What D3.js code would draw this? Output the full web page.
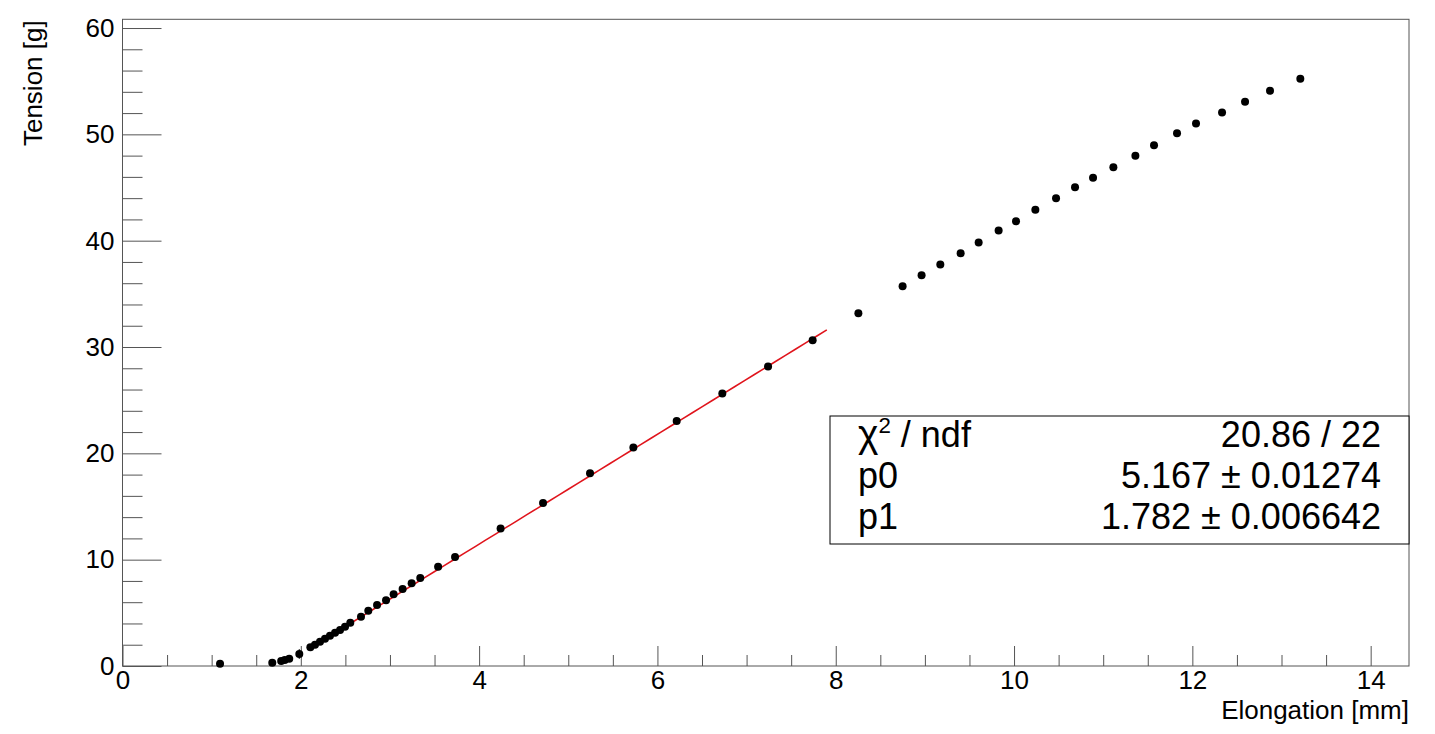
<!DOCTYPE html>
<html>
<head>
<meta charset="utf-8">
<script src="https://cdn.jsdelivr.net/npm/d3@7"></script>
<style>
  html, body { margin: 0; padding: 0; background: #fff; }
  svg { display: block; font-family: "Liberation Sans", Arial, Helvetica, sans-serif; }
</style>
</head>
<body>
<svg id="chart" width="1435" height="734"></svg>
<script>
// ---- data ----
const elongation = [1.094, 1.680, 1.78, 1.82, 1.87, 1.983, 2.107, 2.159, 2.215, 2.271, 2.327, 2.384, 2.44, 2.496, 2.555,
  2.675, 2.757, 2.855, 2.956, 3.041, 3.142, 3.243, 3.34, 3.54, 3.73, 4.241, 4.717, 5.244, 5.730, 6.216, 6.728, 7.241, 7.741,
  8.254, 8.750, 8.963, 9.173, 9.401, 9.603, 9.827, 10.022, 10.239, 10.471, 10.684, 10.886, 11.114, 11.361, 11.570, 11.828,
  12.041, 12.333, 12.591, 12.871, 13.211];
const tension = [0.22, 0.31, 0.47, 0.56, 0.69, 1.13, 1.76, 2.0, 2.29, 2.57, 2.85, 3.13, 3.39, 3.70, 4.07,
  4.64, 5.2, 5.74, 6.18, 6.74, 7.24, 7.78, 8.28, 9.34, 10.25, 12.92, 15.33, 18.13, 20.54, 23.05, 25.62, 28.16, 30.64,
  33.18, 35.72, 36.75, 37.75, 38.82, 39.82, 40.95, 41.83, 42.90, 44.0, 45.03, 45.91, 46.91, 47.98, 48.98, 50.11,
  51.02, 52.05, 53.06, 54.09, 55.22];
const tensionErr = [0, 0, 0, 0, 0, 0.45, 0, 0, 0, 0, 0, 0, 0, 0, 0,
  0, 0, 0, 0, 0, 0, 0, 0, 0, 0, 0, 0, 0, 0, 0, 0, 0, 0,
  0, 0, 0, 0, 0, 0, 0, 0, 0, 0, 0, 0, 0, 0, 0, 0,
  0, 0, 0, 0, 0];
const xDomain = [0, 14.43];
const yDomain = [0, 60.82];
const xTicks = [0, 2, 4, 6, 8, 10, 12, 14];
const yTicks = [0, 10, 20, 30, 40, 50, 60];
const xMinorStep = 0.5;
const yMinorStep = 2;
const fitP0 = 5.167, fitP1 = 1.782;   // y = p0 * (x - p1)
const fitRange = [2.1, 7.9];
const statsLabels = ["ndf", "p0", "p1"];
const statsValues = ["20.86 / 22", "5.167 \u00b1 0.01274", "1.782 \u00b1 0.006642"];
const xTitle = "Elongation [mm]";
const yTitle = "Tension [g]";

// ---- layout ----
const L = 122.5, R = 1409, T = 19.3, B = 666;
const svg = d3.select("#chart");
const x = d3.scaleLinear().domain(xDomain).range([L, R]);
const y = d3.scaleLinear().domain(yDomain).range([B, T]);
const axisColor = "#555";
const fs = 26;

// frame
svg.append("rect").attr("x", L).attr("y", T).attr("width", R - L).attr("height", B - T)
  .attr("fill", "none").attr("stroke", axisColor).attr("stroke-width", 1);

// x axis
const xMinor = d3.range(0, xDomain[1] + 1e-9, xMinorStep).filter(v => !xTicks.includes(v));
const gxMinor = svg.append("g").attr("transform", `translate(0,${B})`)
  .call(d3.axisBottom(x).tickValues(xMinor).tickSize(-11).tickSizeOuter(0).tickFormat(""));
const gx = svg.append("g").attr("transform", `translate(0,${B})`)
  .call(d3.axisBottom(x).tickValues(xTicks).tickSize(-20).tickSizeOuter(0).tickPadding(5).tickFormat(d3.format("d")));
// y axis
const yMinor = d3.range(0, yDomain[1] + 1e-9, yMinorStep).filter(v => !yTicks.includes(v));
const gyMinor = svg.append("g").attr("transform", `translate(${L},0)`)
  .call(d3.axisLeft(y).tickValues(yMinor).tickSize(-20).tickSizeOuter(0).tickFormat(""));
const gy = svg.append("g").attr("transform", `translate(${L},0)`)
  .call(d3.axisLeft(y).tickValues(yTicks).tickSize(-39).tickSizeOuter(0).tickPadding(8).tickFormat(d3.format("d")));

[gxMinor, gx, gyMinor, gy].forEach(g => {
  g.select(".domain").remove();
  g.selectAll(".tick line").attr("stroke", axisColor).attr("stroke-width", 1);
  g.selectAll(".tick text").attr("fill", "#000").style("font-size", fs + "px")
    .style("font-family", '"Liberation Sans", Arial, Helvetica, sans-serif');
});

// axis titles
svg.append("text").attr("x", R).attr("y", 719).attr("text-anchor", "end")
  .style("font-size", fs + "px").text(xTitle);
svg.append("text").attr("transform", `translate(42,${T + 1}) rotate(-90)`).attr("text-anchor", "end")
  .style("font-size", fs + "px").text(yTitle);

// fit line
const fitXs = d3.range(fitRange[0], fitRange[1] + 1e-9, (fitRange[1] - fitRange[0]) / 50);
svg.append("path")
  .datum(fitXs)
  .attr("fill", "none").attr("stroke", "#e0141c").attr("stroke-width", 1.6)
  .attr("d", d3.line().x(d => x(d)).y(d => y(fitP0 * (d - fitP1))));

// data points
const pts = elongation.map((v, i) => ({ x: v, y: tension[i], e: tensionErr[i] }));
svg.append("g").selectAll("line").data(pts.filter(d => d.e > 0)).join("line")
  .attr("x1", d => x(d.x)).attr("x2", d => x(d.x))
  .attr("y1", d => y(d.y - d.e)).attr("y2", d => y(d.y + d.e))
  .attr("stroke", "#000").attr("stroke-width", 1.2);
svg.append("g").selectAll("circle").data(pts).join("circle")
  .attr("cx", d => x(d.x)).attr("cy", d => y(d.y)).attr("r", 4).attr("fill", "#000");

// stats box
const bx0 = 830, by0 = 416, bx1 = R, by1 = 544;
svg.append("rect").attr("x", bx0).attr("y", by0).attr("width", bx1 - bx0).attr("height", by1 - by0)
  .attr("fill", "#fff").attr("stroke", "#000").attr("stroke-width", 1);
const sfs = 36;
const rowBase = [447, 488, 529];
const t0 = svg.append("text").attr("x", 858).attr("y", rowBase[0]).style("font-size", sfs + "px");
t0.append("tspan").style("font-size", (sfs * 1.08) + "px").text("\u03c7");
t0.append("tspan").attr("dy", -14).style("font-size", (sfs * 0.62) + "px").text("2");
t0.append("tspan").attr("dy", 14).text(" / " + statsLabels[0]);
for (let i = 1; i < 3; i++) {
  svg.append("text").attr("x", 858).attr("y", rowBase[i]).style("font-size", sfs + "px").text(statsLabels[i]);
}
statsValues.forEach((s, i) => {
  svg.append("text").attr("x", 1381).attr("y", rowBase[i]).attr("text-anchor", "end")
    .style("font-size", sfs + "px").text(s);
});
</script>
</body>
</html>
